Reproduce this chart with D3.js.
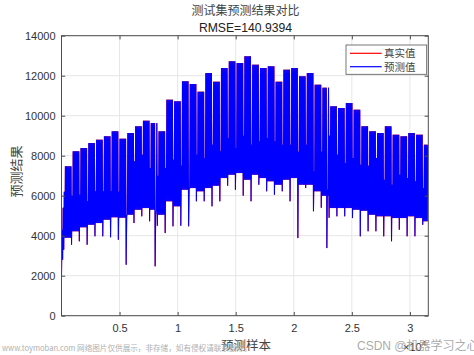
<!DOCTYPE html>
<html><head><meta charset="utf-8">
<script src="https://cdn.jsdelivr.net/npm/d3@7"></script>
<style>body{margin:0;background:#fff}svg{display:block}</style>
</head><body>
<svg id="c" width="474" height="355"></svg>
<script>
// ---- data (15-min samples, envelope per day) ----
const titleText = "测试集预测结果对比";
const rmseText = "RMSE=140.9394";
const seriesNames = ["真实值", "预测值"];
const samplesPerDay = 96;
const nDays = 329;
// first three days (start-up)
const startMax = [4300, 5400, 6200];
const startMin = [1950, 2800, 3300];
// per week block: 6 high days then 1 low day
const wdMax = [7470, 8220, 8380, 8630, 8800, 8970, 9220, 8850, 9130, 9470, 9750, 9630, 9220, 10800, 10720, 11720, 11580, 11200, 12130, 11700, 12380, 12720, 12630, 12970, 12550, 12380, 12470, 11700, 12300, 12380, 11970, 12130, 11550, 11400, 10470, 10380, 10630, 10300, 9470, 9220, 9130, 9470, 9050, 8970, 9130, 9050, 8550];
const wdMin = [3900, 4220, 4420, 4550, 4630, 4800, 4920, 4900, 5050, 5300, 5380, 5300, 5050, 5720, 5470, 6300, 6380, 6220, 6380, 6500, 6880, 7050, 7130, 6800, 7050, 6880, 6720, 6550, 6800, 6880, 6550, 6550, 6220, 6000, 5380, 5380, 5380, 5300, 5250, 5050, 4970, 4970, 4880, 4880, 4970, 4880, 4720];
const weMax = [6000, 6050, 5720, 6220, 6220, 6220, 6200, 5000, 7720, 8050, 7380, 7000, 7380, 7800, 7500, 6380, 8050, 7880, 8550, 8220, 8880, 8380, 9000, 8550, 8720, 8880, 8720, 8550, 8550, 8200, 8550, 7220, 8200, 9000, 8050, 7630, 7880, 7550, 7500, 7880, 6800, 6550, 7050, 6880, 6720, 6380, 6300];
const weMin = [3550, 3720, 3550, 3970, 3970, 3920, 3800, 2550, 4630, 4970, 4720, 4500, 4130, 4470, 4500, 4470, 5720, 5720, 5470, 5720, 6500, 6300, 6000, 5720, 6550, 6220, 6050, 6220, 5720, 3880, 6380, 5220, 5400, 4900, 4970, 4970, 4880, 3970, 4220, 4220, 3970, 3720, 4300, 3970, 3970, 4550, 4500];
// special days: [day, max, min]
const holidays = [[84, 5000, 2470], [238, 6300, 3380]];
const xTickValues = [5000, 10000, 15000, 20000, 25000, 30000];
const xTickLabels = ["0.5", "1", "1.5", "2", "2.5", "3"];
const yTickValues = [0, 2000, 4000, 6000, 8000, 10000, 12000, 14000];
const yTickLabels = ["0", "2000", "4000", "6000", "8000", "10000", "12000", "14000"];

// ---- build daily envelope from the readings ----
const dayMax = [], dayMin = [];
for (let d = 0; d < nDays; d++) {
  if (d < startMax.length) { dayMax.push(startMax[d]); dayMin.push(startMin[d]); continue; }
  const k = d - startMax.length, b = Math.floor(k / 7), r = k % 7;
  if (r < 6) { dayMax.push(wdMax[b]); dayMin.push(wdMin[b]); }
  else { dayMax.push(weMax[b]); dayMin.push(weMin[b]); }
}
holidays.forEach(([d, mx, mn]) => { dayMax[d] = mx; dayMin[d] = mn; });
const pts = [];
for (let d = 0; d < nDays; d++) {
  pts.push([d * samplesPerDay + 1, dayMin[d]]);
  pts.push([d * samplesPerDay + 49, dayMax[d]]);
}
const trueSeries = pts;
const predSeries = pts;

// ---- chart ----
const svg = d3.select("#c");
const m = {l: 61.5, r: 428.3, t: 35.7, b: 315.7};
const x = d3.scaleLinear().domain([1, nDays * samplesPerDay]).range([m.l, m.r]);
const y = d3.scaleLinear().domain([0, 14000]).range([m.b, m.t]);
const axisColor = "#4d4d4d";
const numFont = "'Liberation Sans', Arial, sans-serif";
const cjkFont = "'Noto Sans CJK SC', sans-serif";

svg.append("rect").attr("width", 474).attr("height", 355).attr("fill", "#fff");

// grid
const grid = svg.append("g").attr("stroke", "#e6e6e6").attr("stroke-width", 1);
xTickValues.forEach(v => grid.append("line").attr("x1", x(v)).attr("x2", x(v)).attr("y1", m.t).attr("y2", m.b));
yTickValues.forEach(v => grid.append("line").attr("x1", m.l).attr("x2", m.r).attr("y1", y(v)).attr("y2", y(v)));

// lines
svg.append("clipPath").attr("id", "clip").append("rect")
  .attr("x", m.l).attr("y", m.t).attr("width", m.r - m.l).attr("height", m.b - m.t);
const line = d3.line().x(d => x(d[0])).y(d => y(d[1]));
const plot = svg.append("g").attr("clip-path", "url(#clip)");
plot.append("path").attr("d", line(trueSeries)).attr("fill", "none").attr("stroke", "#ff0000").attr("stroke-width", 0.7);
plot.append("path").attr("d", line(predSeries)).attr("fill", "none").attr("stroke", "#0000ff").attr("stroke-width", 1.05);

// axes
const tl = 3.7;
const gx = svg.append("g").attr("transform", `translate(0,${m.b})`)
  .call(d3.axisBottom(x).tickValues(xTickValues).tickFormat((d, i) => xTickLabels[i]).tickSizeInner(-tl).tickSizeOuter(0).tickPadding(9));
const gy = svg.append("g").attr("transform", `translate(${m.l},0)`)
  .call(d3.axisLeft(y).tickValues(yTickValues).tickFormat((d, i) => yTickLabels[i]).tickSizeInner(-tl).tickSizeOuter(0).tickPadding(6));
const gt = svg.append("g").attr("transform", `translate(0,${m.t})`)
  .call(d3.axisTop(x).tickValues(xTickValues).tickFormat("").tickSizeInner(-tl).tickSizeOuter(0));
const gr = svg.append("g").attr("transform", `translate(${m.r},0)`)
  .call(d3.axisRight(y).tickValues(yTickValues).tickFormat("").tickSizeInner(-tl).tickSizeOuter(0));
[gx, gy, gt, gr].forEach(g => {
  g.select(".domain").remove();
  g.selectAll("line").attr("stroke", axisColor);
  g.selectAll("text").attr("fill", "#333").style("font-family", numFont).style("font-size", "11px");
});
svg.append("rect").attr("x", m.l).attr("y", m.t).attr("width", m.r - m.l).attr("height", m.b - m.t)
  .attr("fill", "none").attr("stroke", axisColor).attr("stroke-width", 1);

// exponent label
const ex = svg.append("text").attr("x", 403).attr("y", 350.5).attr("fill", "#333")
  .style("font-family", numFont).style("font-size", "11px");
ex.append("tspan").text("×10");
ex.append("tspan").attr("dy", -4.5).style("font-size", "8px").text("4");

// titles
svg.append("text").attr("x", 245.5).attr("y", 15).attr("text-anchor", "middle").attr("fill", "#444")
  .style("font-family", cjkFont).style("font-size", "12px").text(titleText);
svg.append("text").attr("x", 245.5).attr("y", 32.3).attr("text-anchor", "middle").attr("fill", "#222")
  .style("font-family", numFont).style("font-size", "12.2px").text(rmseText);
svg.append("text").attr("x", 246).attr("y", 349.5).attr("text-anchor", "middle").attr("fill", "#444")
  .style("font-family", cjkFont).style("font-size", "12.5px").text("预测样本");
svg.append("text").attr("transform", "translate(20.5,171.5) rotate(-90)").attr("text-anchor", "middle").attr("fill", "#444")
  .style("font-family", cjkFont).style("font-size", "13px").text("预测结果");

// legend
const lg = svg.append("g");
lg.append("rect").attr("x", 346).attr("y", 45).attr("width", 80.7).attr("height", 29.3)
  .attr("fill", "#fff").attr("stroke", "#555").attr("stroke-width", 0.8);
const lgColors = ["#ff0000", "#0000ff"];
seriesNames.forEach((n, i) => {
  const yy = 53.3 + i * 13.4;
  lg.append("line").attr("x1", 350).attr("x2", 381.7).attr("y1", yy).attr("y2", yy).attr("stroke", lgColors[i]).attr("stroke-width", 1.2);
  lg.append("text").attr("x", 384).attr("y", yy + 3.8).attr("fill", "#444")
    .style("font-family", cjkFont).style("font-size", "10.5px").text(n);
});

// watermarks
svg.append("text").attr("x", 2).attr("y", 351).attr("fill", "#b0b0b0")
  .style("font-family", cjkFont).style("font-size", "7.6px").text("www.toymoban.com 网络图片仅供展示，非存储，如有侵权请联系删除。");
svg.append("text").attr("x", 357).attr("y", 349.5).attr("fill", "#9a9a9a").attr("fill-opacity", 0.85)
  .style("font-family", "'Liberation Sans','Noto Sans CJK SC',sans-serif").style("font-size", "12px").text("CSDN @机器学习之心");
</script>
</body></html>
